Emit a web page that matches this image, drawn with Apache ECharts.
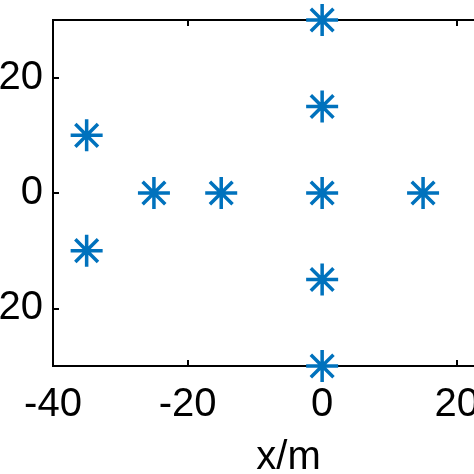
<!DOCTYPE html>
<html>
<head>
<meta charset="utf-8">
<script src="https://cdn.jsdelivr.net/npm/echarts@6/dist/echarts.min.js"></script>
<style>
  html, body { margin: 0; padding: 0; background: #fff; }
  #chart { width: 474px; height: 474px; }
</style>
</head>
<body>
<div id="chart"></div>
<script>
// sensor positions in metres
const xPos = [-35, -35, -25, -15, 0, 0, 0, 0, 0, 15];
const yPos = [10, -10, 0, 0, 30, 15, 0, -15, -30, 0];
const xTicks = [-40, -20, 0, 20];
const yTicks = [-20, 0, 20];

// MATLAB style '*' marker built from four bars
const star = 'path://M0 44.5H100V55.5H0Z M44.5 0H55.5V100H44.5Z ' +
    'M18.5 10.7L89.3 81.5L81.5 89.3L10.7 18.5Z ' +
    'M81.5 10.7L89.3 18.5L18.5 89.3L10.7 81.5Z';

const font = 'Liberation Sans';
const points = xPos.map((x, i) => [x, yPos[i]]);
const line = { show: true, onZero: false, lineStyle: { color: '#000', width: 2 } };

const chart = echarts.init(document.getElementById('chart'));
chart.setOption({
    animation: false,
    grid: {
        left: 53, top: 20, right: -50, bottom: 108,
        outerBoundsMode: 'none', containLabel: false,
        show: true, borderColor: '#000', borderWidth: 2
    },
    xAxis: [{
        type: 'value', min: -40, max: 30, interval: 10,
        name: 'x/m', nameLocation: 'middle', nameGap: 72,
        nameTextStyle: { fontFamily: font, fontSize: 40, color: '#000' },
        axisLine: line,
        axisTick: { inside: true, length: 6, customValues: xTicks,
            lineStyle: { color: '#000', width: 2 } },
        axisLabel: { fontFamily: font, fontSize: 40, color: '#000', margin: 19,
            customValues: xTicks },
        splitLine: { show: false }
    }, {
        type: 'value', position: 'top', min: -40, max: 30, interval: 10,
        axisLine: line,
        axisTick: { inside: true, length: 6, customValues: xTicks,
            lineStyle: { color: '#000', width: 2 } },
        axisLabel: { show: false },
        splitLine: { show: false }
    }],
    yAxis: {
        type: 'value', min: -30, max: 30, interval: 10,
        axisLine: line,
        axisTick: { inside: true, length: 6, customValues: yTicks,
            lineStyle: { color: '#000', width: 2 } },
        axisLabel: { fontFamily: font, fontSize: 40, color: '#000', margin: 10,
            customValues: yTicks },
        splitLine: { show: false }
    },
    series: [{
        type: 'scatter',
        data: points,
        symbol: star,
        symbolSize: 32,
        clip: false,
        itemStyle: { color: '#0072BD', opacity: 1 }
    }]
});
</script>
</body>
</html>
